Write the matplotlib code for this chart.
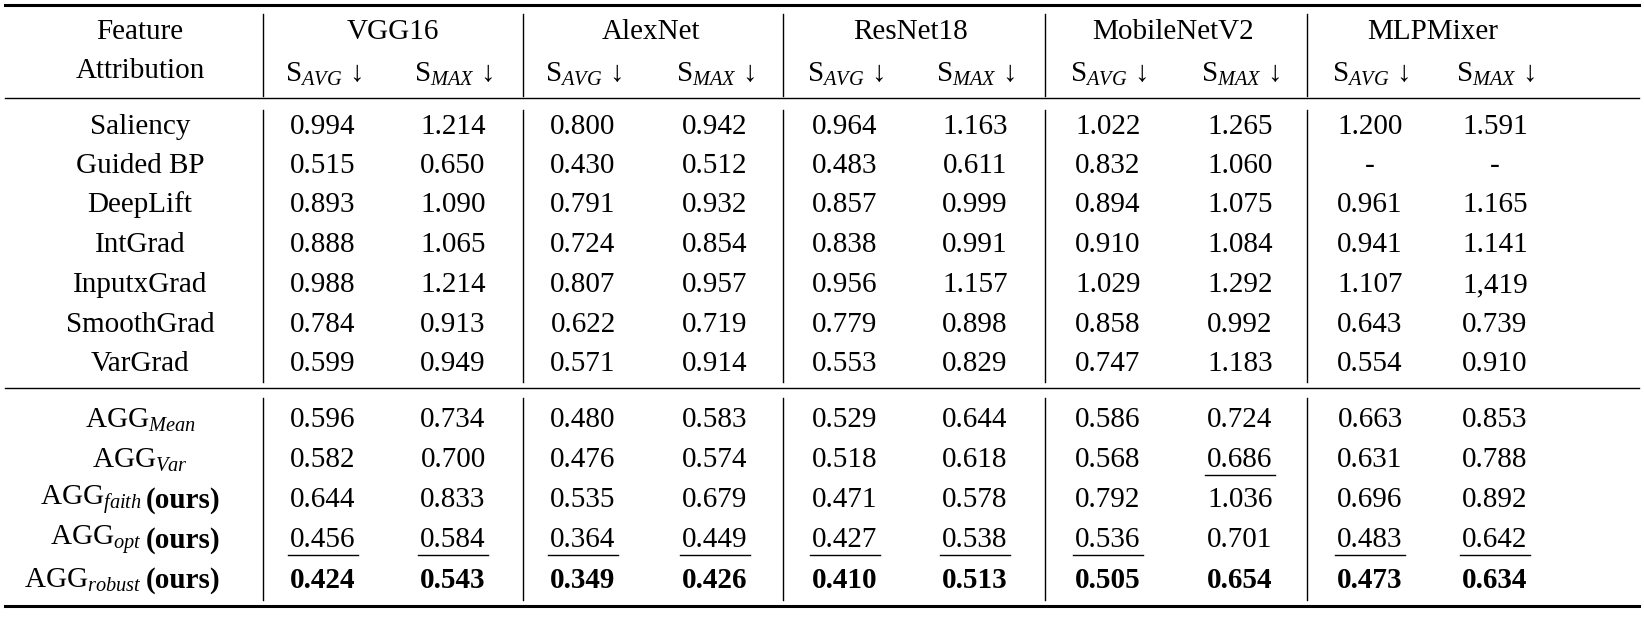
import matplotlib
matplotlib.use("Agg")
import matplotlib.pyplot as plt

models = ["VGG16", "AlexNet", "ResNet18", "MobileNetV2", "MLPMixer"]
methods = ["Saliency", "Guided BP", "DeepLift", "IntGrad", "InputxGrad", "SmoothGrad", "VarGrad"]
method_vals = [
    ["0.994", "1.214", "0.800", "0.942", "0.964", "1.163", "1.022", "1.265", "1.200", "1.591"],
    ["0.515", "0.650", "0.430", "0.512", "0.483", "0.611", "0.832", "1.060", "-", "-"],
    ["0.893", "1.090", "0.791", "0.932", "0.857", "0.999", "0.894", "1.075", "0.961", "1.165"],
    ["0.888", "1.065", "0.724", "0.854", "0.838", "0.991", "0.910", "1.084", "0.941", "1.141"],
    ["0.988", "1.214", "0.807", "0.957", "0.956", "1.157", "1.029", "1.292", "1.107", "1,419"],
    ["0.784", "0.913", "0.622", "0.719", "0.779", "0.898", "0.858", "0.992", "0.643", "0.739"],
    ["0.599", "0.949", "0.571", "0.914", "0.553", "0.829", "0.747", "1.183", "0.554", "0.910"],
]
agg_labels = [r"AGG$_{\mathit{Mean}}$", r"AGG$_{\mathit{Var}}$", r"AGG$_{\mathit{faith}}$",
              r"AGG$_{\mathit{opt}}$", r"AGG$_{\mathit{robust}}$"]
agg_ours = [False, False, True, True, True]
agg_vals = [
    ["0.596", "0.734", "0.480", "0.583", "0.529", "0.644", "0.586", "0.724", "0.663", "0.853"],
    ["0.582", "0.700", "0.476", "0.574", "0.518", "0.618", "0.568", "0.686", "0.631", "0.788"],
    ["0.644", "0.833", "0.535", "0.679", "0.471", "0.578", "0.792", "1.036", "0.696", "0.892"],
    ["0.456", "0.584", "0.364", "0.449", "0.427", "0.538", "0.536", "0.701", "0.483", "0.642"],
    ["0.424", "0.543", "0.349", "0.426", "0.410", "0.513", "0.505", "0.654", "0.473", "0.634"],
]
underlined = [(1, 7), (3, 0), (3, 1), (3, 2), (3, 3), (3, 4), (3, 5), (3, 6), (3, 8), (3, 9)]

plt.rcParams['font.family'] = ['Liberation Serif', 'DejaVu Serif']
plt.rcParams['mathtext.fontset'] = 'custom'
plt.rcParams['mathtext.rm'] = 'Liberation Serif'
plt.rcParams['mathtext.it'] = 'Liberation Serif:italic'
plt.rcParams['mathtext.bf'] = 'Liberation Serif:bold'

W, H = 1644, 641
fig = plt.figure(figsize=(W / 100, H / 100), dpi=100)
ax = fig.add_axes([0, 0, 1, 1])
ax.set_xlim(0, W)
ax.set_ylim(H, 0)
ax.axis('off')
fs = 21

label_x = 140
col_x = [323, 453, 583, 715, 845, 975, 1108, 1240, 1370, 1495]
model_x = [393, 651, 911, 1173, 1433]
vlines = [263, 523, 783, 1045, 1307]

ax.plot([5, 1639], [5, 5], color='k', lw=2.2)
ax.plot([5, 1639], [98, 98], color='k', lw=1.0)
ax.plot([5, 1639], [388, 388], color='k', lw=1.0)
ax.plot([5, 1639], [606, 606], color='k', lw=2.2)
for vx in vlines:
    for y0, y1 in [(14, 96), (110, 382), (398, 600)]:
        ax.plot([vx, vx], [y0, y1], color='k', lw=1.0)

ax.text(label_x, 32, "Feature", ha='center', va='center', fontsize=fs)
ax.text(label_x, 71, "Attribution", ha='center', va='center', fontsize=fs)
for m, x in zip(models, model_x):
    ax.text(x, 32, m, ha='center', va='center', fontsize=fs)
for i, x in enumerate(col_x):
    sub = r"S$_{\mathit{AVG}}$ ↓" if i % 2 == 0 else r"S$_{\mathit{MAX}}$ ↓"
    ax.text(x, 74, sub, ha='center', va='center', fontsize=fs)

row_y = [127, 166, 205, 245, 285, 325, 364]
for name, vals, y in zip(methods, method_vals, row_y):
    ax.text(label_x, y, name, ha='center', va='center', fontsize=fs)
    for v, x in zip(vals, col_x):
        ax.text(x, y, v, ha='center', va='center', fontsize=fs)

agg_y = [420, 460, 500, 540, 580]
for r, (lab, ours, vals, y) in enumerate(zip(agg_labels, agg_ours, agg_vals, agg_y)):
    if ours:
        ax.text(label_x + 2, y, lab, ha='right', va='center', fontsize=fs)
        ax.text(label_x + 6, y, "(ours)", ha='left', va='center', fontsize=fs, fontweight='bold')
    else:
        ax.text(label_x, y, lab, ha='center', va='center', fontsize=fs)
    for c, (v, x) in enumerate(zip(vals, col_x)):
        ax.text(x, y, v, ha='center', va='center', fontsize=fs,
                fontweight='bold' if r == 4 else 'normal')
        if (r, c) in underlined:
            ax.plot([x - 35, x + 35], [y + 15, y + 15], color='k', lw=1.0)

fig.savefig("out.png", dpi=100)
